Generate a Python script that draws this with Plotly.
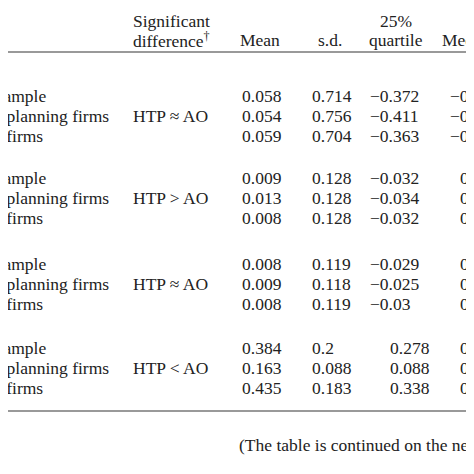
"""Cropped summary-statistics table, drawn as text on a blank Plotly canvas."""

import plotly.graph_objects as go

row_labels = ["Full sample", "Holistic tax planning firms", "Other firms"]
sig_diff = ["HTP ≈ AO", "HTP > AO", "HTP ≈ AO", "HTP < AO"]
mean_vals = [["0.058", "0.054", "0.059"], ["0.009", "0.013", "0.008"],
             ["0.008", "0.009", "0.008"], ["0.384", "0.163", "0.435"]]
sd_vals = [["0.714", "0.756", "0.704"], ["0.128", "0.128", "0.128"],
           ["0.119", "0.118", "0.119"], ["0.2", "0.088", "0.183"]]
q25_vals = [["−0.372", "−0.411", "−0.363"], ["−0.032", "−0.034", "−0.032"],
            ["−0.029", "−0.025", "−0.03"], ["0.278", "0.088", "0.338"]]
med_vals = [["−0.0", "−0.0", "−0.0"], ["0.0", "0.0", "0.0"],
            ["0.0", "0.0", "0.0"], ["0.3", "0.1", "0.3"]]
label_ends = [40, 103, 37]
group_y = [88, 170, 256, 340]

FONT = dict(family="Liberation Serif, Times New Roman, serif", size=17.5, color="#222")
ann = []


def txt(x, y, s, anchor="center"):
    ann.append(dict(x=x, y=y, text=s, showarrow=False, xanchor=anchor,
                    yanchor="middle", font=FONT, xref="x", yref="y"))


# header
txt(163, 13, "Significant")
txt(163, 32, "difference<sup>†</sup>")
txt(252, 32, "Mean")
txt(322, 32, "s.d.")
txt(388, 13, "25%")
txt(388, 32, "quartile")
txt(432, 32, "Median", "left")

for g, y0 in enumerate(group_y):
    for r in range(3):
        y = y0 + r * 20
        txt(label_ends[r], y, row_labels[r], "right")
        if r == 1:
            txt(162, y, sig_diff[g])
        txt(232, y, mean_vals[g][r], "left")
        txt(302, y, sd_vals[g][r], "left")
        q = q25_vals[g][r]
        txt(360 if q.startswith("−") else 380, y, q, "left")
        m = med_vals[g][r]
        txt(440 if m.startswith("−") else 450, y, m, "left")

txt(229, 437, "(The table is continued on the next page)", "left")

fig = go.Figure()
fig.update_layout(
    width=474, height=474, margin=dict(l=0, r=0, t=0, b=0),
    paper_bgcolor="white", plot_bgcolor="white",
    xaxis=dict(range=[0, 474], visible=False, fixedrange=True),
    yaxis=dict(range=[474, 0], visible=False, fixedrange=True),
    annotations=ann, showlegend=False,
    shapes=[
        dict(type="line", xref="x", yref="y", x0=0, x1=474, y0=44, y1=44,
             line=dict(color="#777", width=1.5)),
        dict(type="line", xref="x", yref="y", x0=0, x1=474, y0=403, y1=403,
             line=dict(color="#777", width=1.5)),
    ],
)
fig.write_html("out.html")
